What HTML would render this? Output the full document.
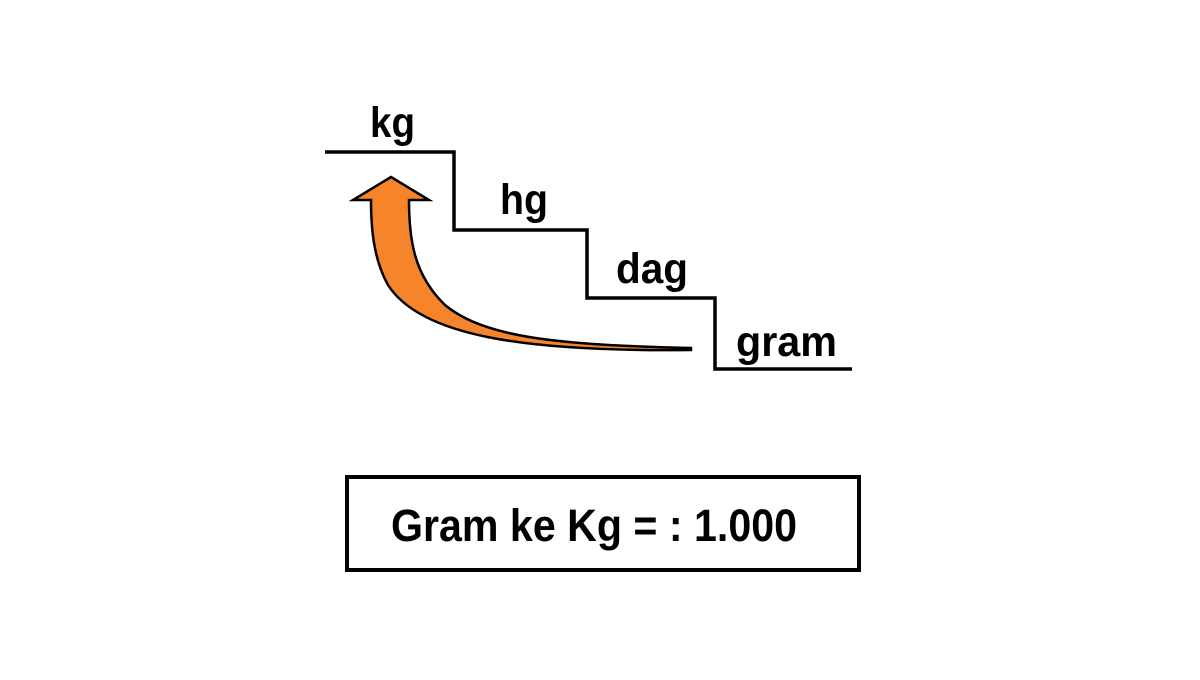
<!DOCTYPE html>
<html><head><style>html,body{margin:0;padding:0;background:#fff}</style></head>
<body>
<svg width="1200" height="675" viewBox="0 0 1200 675" xmlns="http://www.w3.org/2000/svg">
<rect width="1200" height="675" fill="#fff"/>
<polyline points="325,152 454,152 454,230 587,230 587,298 715,298 715,369 852,369" fill="none" stroke="#000" stroke-width="3.5"/>
<path d="M691,350 C520,352 420,335 388,285 C374,260 371,230 371,200 L353,200 L391,177 L429,200 L409,200 C409,240 414,275 445,305 C485,338 560,345 691,348 Z" fill="#f5842a" stroke="#000" stroke-width="2.5" stroke-linejoin="miter"/>
<g font-family="Liberation Sans, sans-serif" font-weight="bold" fill="#000">
<text x="370" y="137" font-size="43" textLength="45" lengthAdjust="spacingAndGlyphs">kg</text>
<text x="500" y="214" font-size="43" textLength="48" lengthAdjust="spacingAndGlyphs">hg</text>
<text x="616" y="283" font-size="43" textLength="72" lengthAdjust="spacingAndGlyphs">dag</text>
<text x="736" y="356" font-size="43" textLength="101" lengthAdjust="spacingAndGlyphs">gram</text>
<text x="391" y="541" font-size="45" textLength="406" lengthAdjust="spacingAndGlyphs">Gram ke Kg = : 1.000</text>
</g>
<rect x="347" y="477" width="512" height="93" fill="none" stroke="#000" stroke-width="4"/>
</svg>
</body></html>
